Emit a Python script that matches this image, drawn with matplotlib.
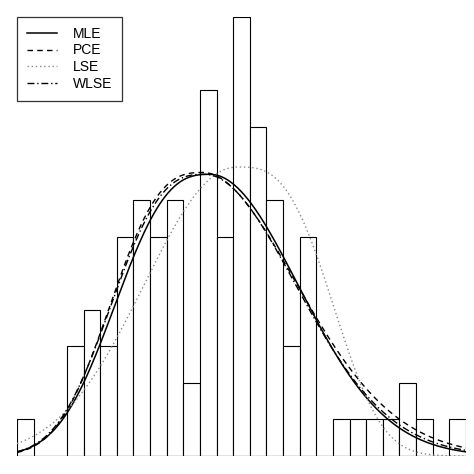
import numpy as np
import matplotlib
matplotlib.use("Agg")
import matplotlib.pyplot as plt
plt.rcParams['font.family'] = ['Liberation Sans', 'DejaVu Sans']

counts = [1, 0, 0, 3, 4, 3, 6, 7, 6, 7, 2, 10, 6, 12, 9, 7, 3, 6, 0, 1, 1, 1, 1, 2, 1, 0, 1]
# fitted curves: (mode, peak, left scale, left shape, right scale, right shape)
mle = (11.6, 7.7, 6.8, 2.7, 7.5, 2.0)
pce = (11.2, 7.75, 6.6, 2.8, 8.1, 1.9)
lse = (13.3, 7.9, 7.7, 2.1, 6.6, 3.0)
wlse = (11.3, 7.7, 6.7, 2.75, 7.8, 1.95)
labels = ['MLE', 'PCE', 'LSE', 'WLSE']

def curve(x, p):
    m, pk, sl, bl, sr, br = p
    d = x - m
    z = np.where(d < 0, (np.abs(d) / sl) ** bl, (np.abs(d) / sr) ** br)
    return pk * np.exp(-z)

fig = plt.figure(figsize=(4.74, 4.74), dpi=100)
ax = fig.add_axes([17/474, 18/474, 449/474, 439/474])
edges = np.arange(len(counts) + 1)
ax.bar(edges[:-1], counts, width=1, align='edge', facecolor='white', edgecolor='black', linewidth=0.8)
ax.plot([0, len(counts)], [0, 0], color='black', lw=0.8)
x = np.linspace(0, len(counts), 400)
h1, = ax.plot(x, curve(x, mle), color='black', lw=1.1, ls='-')
h2, = ax.plot(x, curve(x, pce), color='black', lw=1.0, ls=(0, (4, 3)))
h3, = ax.plot(x, curve(x, lse), color='#888888', lw=1.0, ls=(0, (1, 2)))
h4, = ax.plot(x, curve(x, wlse), color='black', lw=1.0, ls=(0, (5, 2, 1, 2)))
ax.set_xlim(0, len(counts))
ax.set_ylim(0, 12)
ax.axis('off')
leg = fig.legend([h1, h2, h3, h4], labels, loc='upper left', bbox_to_anchor=(17/474, 1 - 17/474),
                 borderaxespad=0, fancybox=False, edgecolor='black', fontsize=10, handlelength=2.2,
                 borderpad=0.7, labelspacing=0.2, handletextpad=1.1)
leg.get_frame().set_linewidth(0.9)
fig.savefig('out.png', dpi=100, facecolor='white')
